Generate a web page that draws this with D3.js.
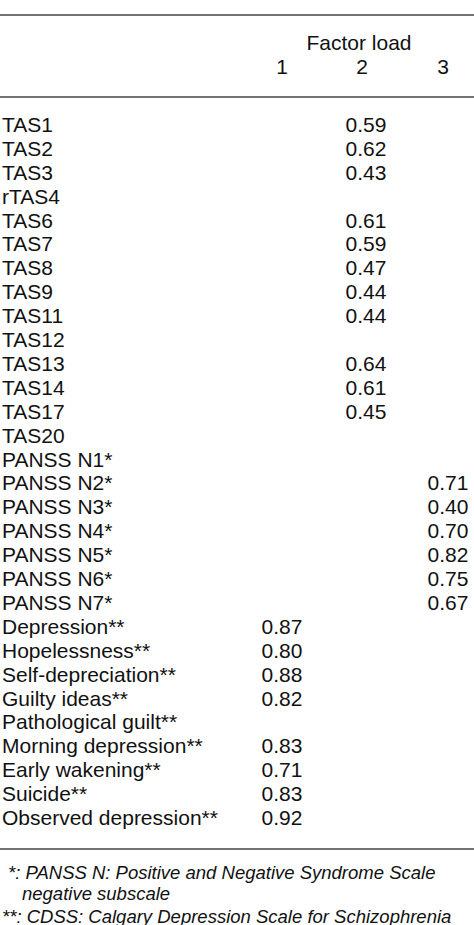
<!DOCTYPE html>
<html><head><meta charset="utf-8">
<script src="https://cdn.jsdelivr.net/npm/d3@7"></script>
<style>body{margin:0;background:#fff}text{font-family:"Liberation Sans",Arial,sans-serif;fill:#111}</style>
</head><body><svg id="c" width="474" height="925"></svg>
<script>
const items=["TAS1","TAS2","TAS3","rTAS4","TAS6","TAS7","TAS8","TAS9","TAS11","TAS12","TAS13","TAS14","TAS17","TAS20",
"PANSS N1*","PANSS N2*","PANSS N3*","PANSS N4*","PANSS N5*","PANSS N6*","PANSS N7*",
"Depression**","Hopelessness**","Self-depreciation**","Guilty ideas**","Pathological guilt**","Morning depression**","Early wakening**","Suicide**","Observed depression**"];
const factor1=[null,null,null,null,null,null,null,null,null,null,null,null,null,null,null,null,null,null,null,null,null,"0.87","0.80","0.88","0.82",null,"0.83","0.71","0.83","0.92"];
const factor2=["0.59","0.62","0.43",null,"0.61","0.59","0.47","0.44","0.44",null,"0.64","0.61","0.45",null,null,null,null,null,null,null,null,null,null,null,null,null,null,null,null,null];
const factor3=[null,null,null,null,null,null,null,null,null,null,null,null,null,null,null,"0.71","0.40","0.70","0.82","0.75","0.67",null,null,null,null,null,null,null,null,null];
const factorLabels=["1","2","3"];
const notes=["*: PANSS N: Positive and Negative Syndrome Scale","negative subscale","**: CDSS: Calgary Depression Scale for Schizophrenia"];
const svg=d3.select("#c");
const y=d3.scaleLinear().domain([0,items.length-1]).range([132,825]);
const colX=[282,366,448];
const sx=1.05;
function txt(x,yy,s,size,anchor,italic,scale){
  const t=svg.append("text").attr("transform",`translate(${x},${yy}) scale(${scale||sx},1)`)
   .attr("font-size",size).attr("text-anchor",anchor||"start").text(s);
  if(italic) t.attr("font-style","italic");
  return t;
}
[15,97,849].forEach(v=>svg.append("line").attr("x1",0).attr("x2",474).attr("y1",v).attr("y2",v).attr("stroke","#444").attr("stroke-width",1.3));
txt(359,50,"Factor  load",20,"middle");
factorLabels.forEach((l,i)=>txt([282,362,443][i],74,l,20,"middle"));
items.forEach((d,i)=>txt(2,y(i),d,20));
[factor1,factor2,factor3].forEach((arr,k)=>arr.forEach((v,i)=>{ if(v) txt(colX[k],y(i),v,20,"middle"); }));
notes.forEach((n,i)=>txt([8,22,2][i],[879,900,923][i],n,18.5,"start",true,1.0));
</script></body></html>
